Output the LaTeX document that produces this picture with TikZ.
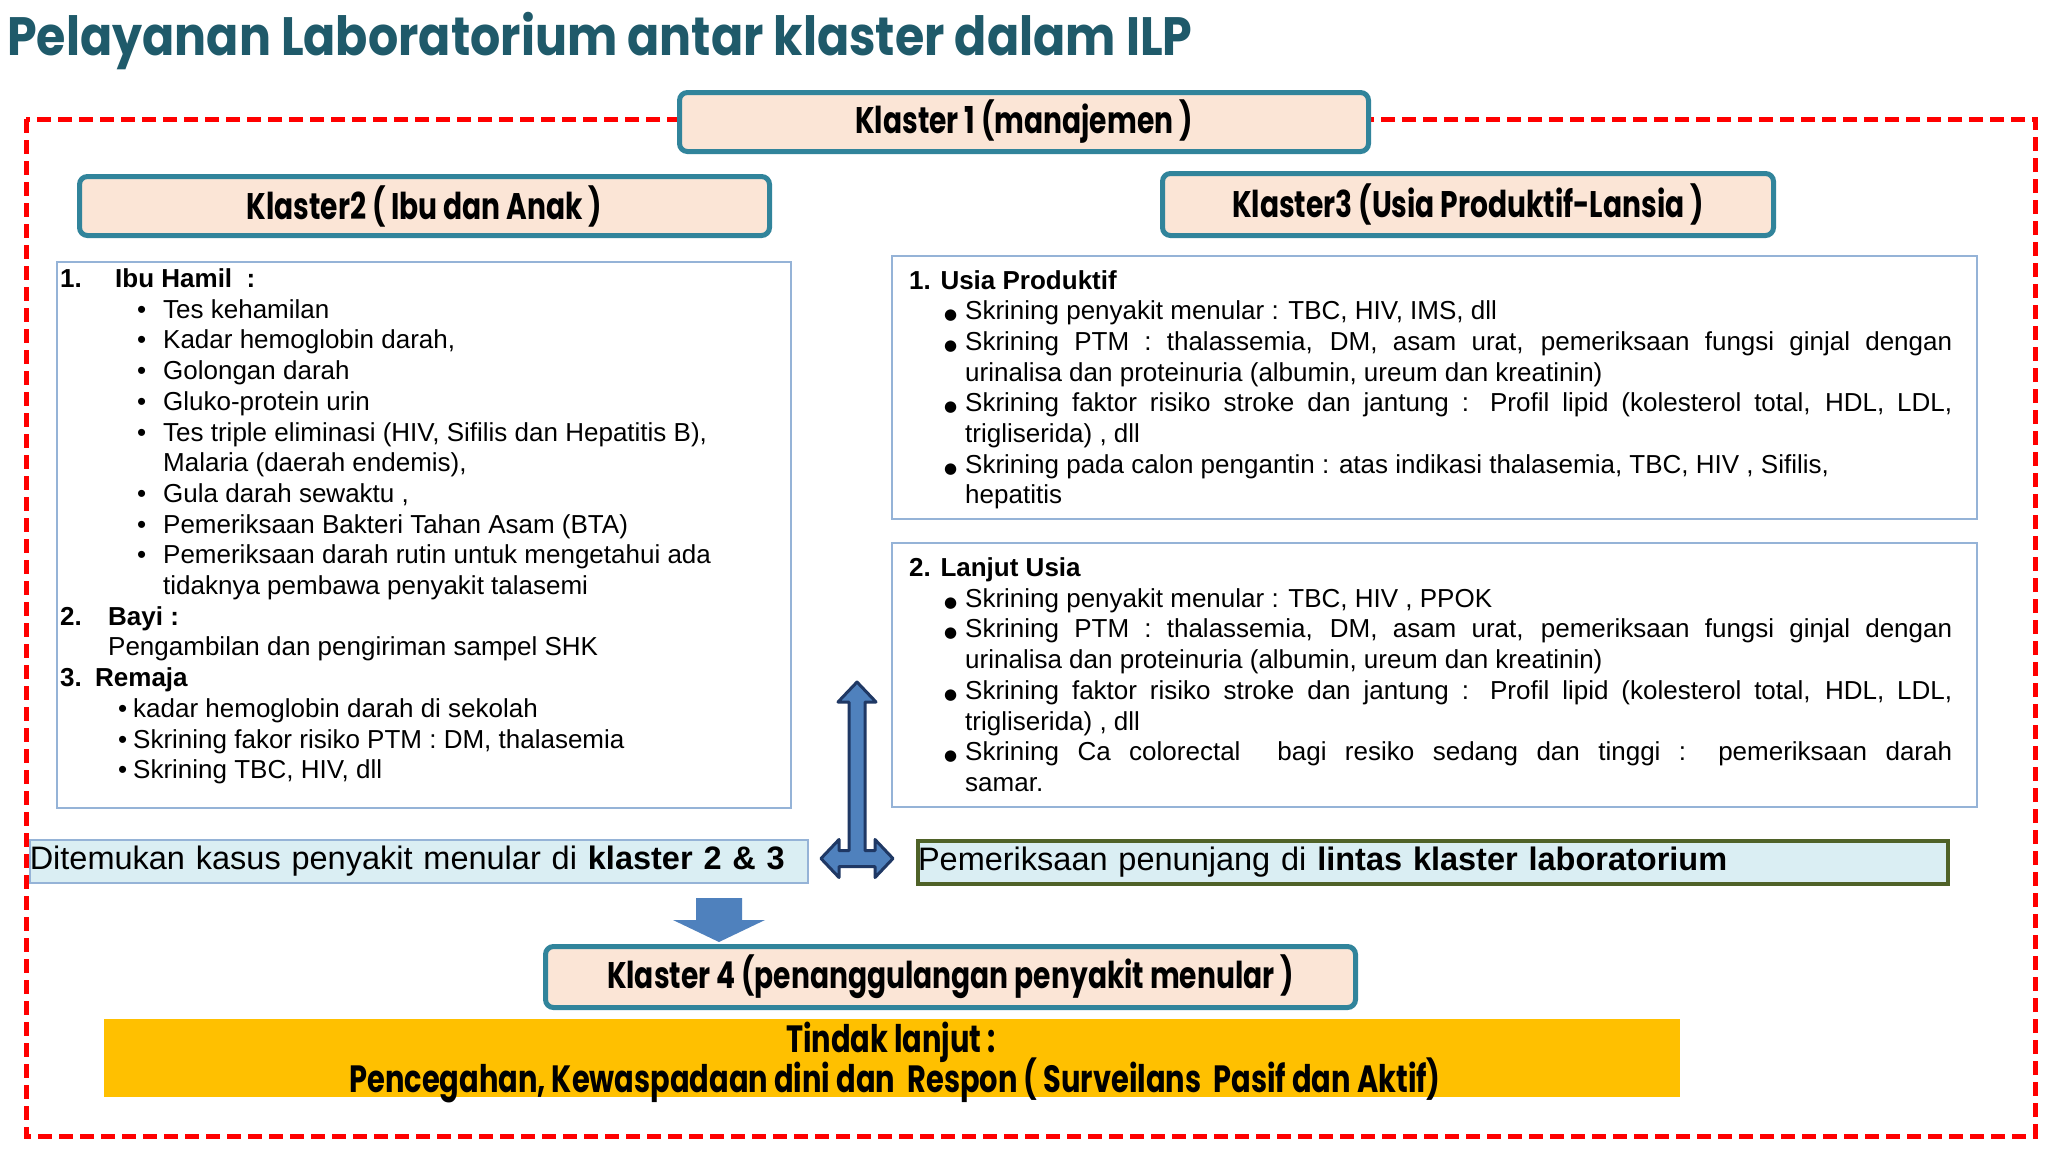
\documentclass[tikz,border=0pt]{standalone}
\usepackage{fontspec}
\setmainfont{Liberation Sans}
\newfontfamily\headfont[FakeStretch=0.76]{Poppins}
\newfontfamily\titlefont[FakeStretch=0.88]{Poppins}
\newfontfamily\dotfont{DejaVu Sans}
\usepackage{tikz}

\definecolor{titleteal}{RGB}{31,90,106}
\definecolor{kfill}{RGB}{251,229,214}
\definecolor{kdraw}{RGB}{49,132,155}
\definecolor{boxline}{RGB}{149,179,215}
\definecolor{paleblue}{RGB}{218,238,243}
\definecolor{olive}{RGB}{79,98,40}
\definecolor{gold}{RGB}{255,192,0}
\definecolor{arrowblue}{RGB}{79,129,189}
\definecolor{navy}{RGB}{31,56,100}

\newcommand\rbul{\hspace*{35pt}\makebox[21pt][l]{\dotfont\fontsize{15}{15}\selectfont ●}}
\newcommand\lbul{\hspace*{77pt}\makebox[26pt][l]{\textbullet}}
\newcommand\sbul{\hspace*{58pt}\makebox[15pt][l]{\textbullet}}
\newcommand\jline[1]{\makebox[987pt][s]{#1}}

\begin{document}
\begin{tikzpicture}[x=1pt,y=-1pt,
  klaster/.style={draw=kdraw, line width=5pt, fill=kfill, rounded corners=8pt, inner sep=0pt,
    font=\headfont\bfseries\fontsize{37}{44}\selectfont},
  listbox/.style={draw=boxline, line width=2pt, fill=white, inner sep=0pt},
  listtext/.style={anchor=north west, align=left, inner sep=0pt, font=\fontsize{26}{30.7}\selectfont},
  banner/.style={fill=paleblue, inner sep=0pt, minimum height=43pt, align=left, anchor=west,
    font=\fontsize{32.5}{38}\selectfont},
  goldtext/.style={inner sep=0pt, font=\headfont\bfseries\fontsize{38}{38}\selectfont}]
\useasboundingbox (0,0) rectangle (2048,1152);
\fill [white] (0,0) rectangle (2048,1152);

\node at (7,55) [anchor=base west, inner sep=0pt, text=titleteal,
  font=\titlefont\bfseries\fontsize{54}{60}\selectfont] (title) {Pelayanan Laboratorium antar klaster dalam ILP};

\draw [red, line width=5pt, dash pattern=on 14pt off 7pt] (26,119) rectangle (2035,1136);

\node at (1024,122) [klaster, minimum width=689, minimum height=59] (k1) {Klaster 1 (manajemen )};
\node at (424.5,206) [klaster, minimum width=690, minimum height=59] (k2) {Klaster2 ( Ibu dan Anak )};
\node at (1468,204.5) [klaster, minimum width=611, minimum height=62] (k3) {Klaster3 (Usia Produktif-Lansia )};

\node at (424,535) [listbox, minimum width=734, minimum height=546] (box2) {};
\node at (60,268.5) [listtext] (list2) {%
{\bfseries\makebox[55pt][l]{1.}Ibu Hamil\ \ :}\\
\lbul Tes kehamilan\\
\lbul Kadar hemoglobin darah,\\
\lbul Golongan darah\\
\lbul Gluko-protein urin\\
\lbul Tes triple eliminasi (HIV, Sifilis dan Hepatitis B),\\
\hspace*{103pt}Malaria (daerah endemis),\\
\lbul Gula darah sewaktu ,\\
\lbul Pemeriksaan Bakteri Tahan Asam (BTA)\\
\lbul Pemeriksaan darah rutin untuk mengetahui ada\\
\hspace*{103pt}tidaknya pembawa penyakit talasemi\\
{\bfseries\makebox[48pt][l]{2.}Bayi :}\\
\hspace*{48pt}Pengambilan dan pengiriman sampel SHK\\
{\bfseries\makebox[35pt][l]{3.}Remaja}\\
\sbul kadar hemoglobin darah di sekolah\\
\sbul Skrining fakor risiko PTM : DM, thalasemia\\
\sbul Skrining TBC, HIV, dll};

\node at (1434.5,387.5) [listbox, minimum width=1085, minimum height=263] (box3a) {};
\node at (909,270) [listtext] (list3a) {%
{\bfseries 1. Usia Produktif}\\
\rbul Skrining penyakit menular : TBC, HIV, IMS, dll\\
\rbul\jline{Skrining PTM : thalassemia, DM, asam urat, pemeriksaan fungsi ginjal dengan}\\
\hspace*{56pt}urinalisa dan proteinuria (albumin, ureum dan kreatinin)\\
\rbul\jline{Skrining faktor risiko stroke dan jantung : Profil lipid (kolesterol total, HDL, LDL,}\\
\hspace*{56pt}trigliserida) , dll\\
\rbul Skrining pada calon pengantin : atas indikasi thalasemia, TBC, HIV , Sifilis,\\
\hspace*{56pt}hepatitis};

\node at (1434.5,675) [listbox, minimum width=1085, minimum height=264] (box3b) {};
\node at (909,557.5) [listtext] (list3b) {%
{\bfseries 2. Lanjut Usia}\\
\rbul Skrining penyakit menular : TBC, HIV , PPOK\\
\rbul\jline{Skrining PTM : thalassemia, DM, asam urat, pemeriksaan fungsi ginjal dengan}\\
\hspace*{56pt}urinalisa dan proteinuria (albumin, ureum dan kreatinin)\\
\rbul\jline{Skrining faktor risiko stroke dan jantung : Profil lipid (kolesterol total, HDL, LDL,}\\
\hspace*{56pt}trigliserida) , dll\\
\rbul\jline{Skrining Ca colorectal \ bagi resiko sedang dan tinggi : pemeriksaan darah}\\
\hspace*{56pt}samar.};

\node at (29,861.5) [banner, draw=boxline, line width=1.5pt, text width=778pt] (found)
  {Ditemukan kasus penyakit menular di \textbf{klaster 2 \& 3}};
\node at (916,862) [banner, draw=olive, line width=4pt, text width=1030pt] (lintas)
  {Pemeriksaan penunjang di \textbf{lintas klaster laboratorium}};

% panah dua arah
\draw [navy, line width=3pt, fill=arrowblue, line join=round]
  (857,682) -- (876,702) -- (865,702) -- (865,850.5) -- (875,850.5) -- (875,839.5)
  -- (893,858.5) -- (875,877.5) -- (875,866.5) -- (839,866.5) -- (839,877.5)
  -- (821,858.5) -- (839,839.5) -- (839,850.5) -- (849,850.5) -- (849,702) -- (838,702) -- cycle;

\fill [arrowblue] (696,898) -- (742,898) -- (742,920) -- (765,920) -- (719,942) -- (673,920) -- (696,920) -- cycle;

\node at (950.5,977) [klaster, minimum width=810, minimum height=61] (k4) {Klaster 4 (penanggulangan penyakit menular )};

\node at (892,1058) [fill=gold, minimum width=1576, minimum height=78, inner sep=0pt] (tindak) {};
\node at (891,1042) [goldtext] (tindak1) {Tindak lanjut :};
\node at (895,1080) [goldtext] (tindak2) {Pencegahan, Kewaspadaan dini dan \ Respon ( Surveilans \ Pasif dan Aktif)};
\end{tikzpicture}
\end{document}
